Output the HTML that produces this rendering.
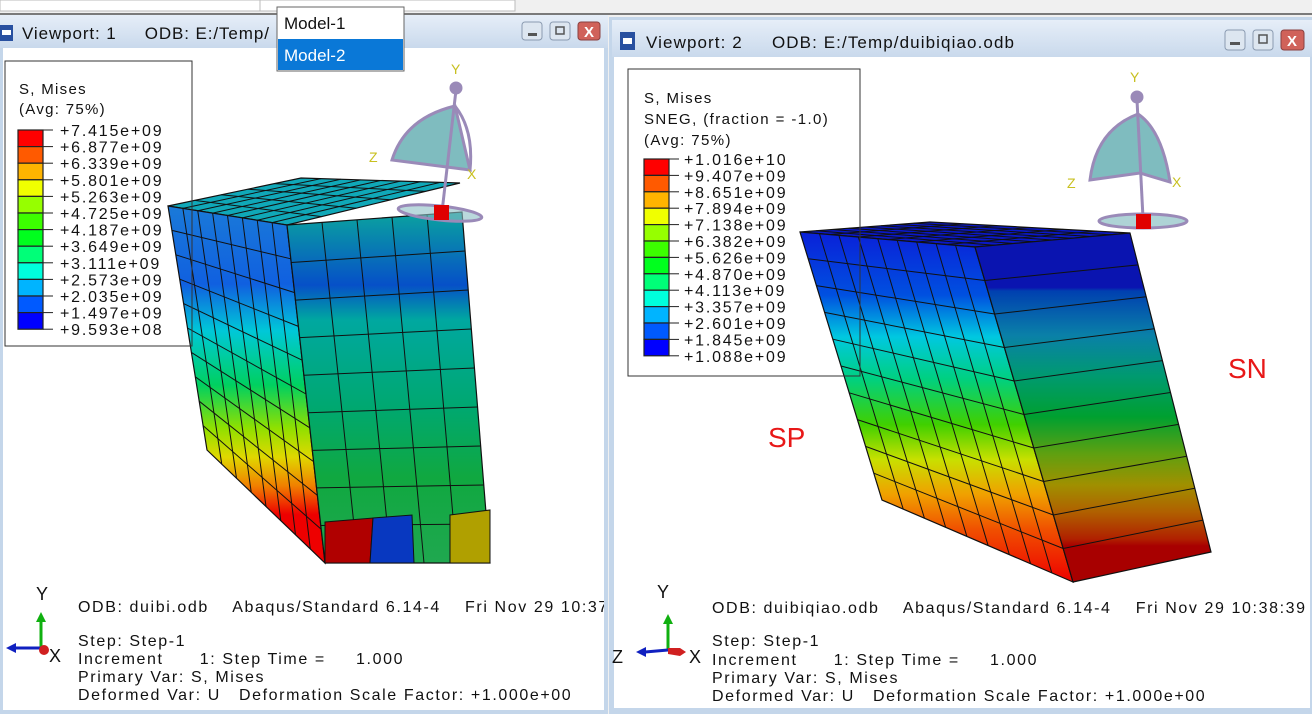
<!DOCTYPE html>
<html><head><meta charset="utf-8"><style>
body{margin:0;width:1312px;height:714px;overflow:hidden;background:#f0f0f0;font-family:"Liberation Sans",sans-serif}
svg{position:absolute;left:0;top:0}
text{white-space:pre}
</style></head><body>
<svg width="1312" height="714" viewBox="0 0 1312 714">
<defs>
<clipPath id="clipL"><rect x="3" y="48" width="601" height="662"/></clipPath>
<linearGradient id="tb" x1="0" y1="0" x2="0" y2="1"><stop offset="0" stop-color="#e6eef8"/><stop offset="1" stop-color="#c9d9ec"/></linearGradient>
<linearGradient id="lside" x1="0" y1="205" x2="0" y2="565" gradientUnits="userSpaceOnUse">
<stop offset="0" stop-color="#1a7ad8"/><stop offset="0.22" stop-color="#1060e0"/><stop offset="0.35" stop-color="#00c8d8"/><stop offset="0.5" stop-color="#00d060"/><stop offset="0.62" stop-color="#90e000"/><stop offset="0.7" stop-color="#e0d800"/><stop offset="0.78" stop-color="#f08000"/><stop offset="0.86" stop-color="#ee0000"/><stop offset="1" stop-color="#ee0000"/></linearGradient>
<linearGradient id="lfront" x1="0" y1="215" x2="0" y2="565" gradientUnits="userSpaceOnUse">
<stop offset="0" stop-color="#0aa0a0"/><stop offset="0.2" stop-color="#0650c8"/><stop offset="0.3" stop-color="#00a8a0"/><stop offset="0.55" stop-color="#00a870"/><stop offset="0.75" stop-color="#10a840"/><stop offset="1" stop-color="#20a850"/></linearGradient>
<linearGradient id="rside" x1="0" y1="232" x2="0" y2="582" gradientUnits="userSpaceOnUse">
<stop offset="0" stop-color="#0a20d8"/><stop offset="0.18" stop-color="#0050e0"/><stop offset="0.3" stop-color="#00c8e0"/><stop offset="0.42" stop-color="#00d080"/><stop offset="0.55" stop-color="#40d000"/><stop offset="0.65" stop-color="#c8e000"/><stop offset="0.75" stop-color="#f0a000"/><stop offset="0.85" stop-color="#f05000"/><stop offset="1" stop-color="#ee0000"/></linearGradient>
<linearGradient id="rfront" x1="0" y1="240" x2="0" y2="580" gradientUnits="userSpaceOnUse">
<stop offset="0" stop-color="#0a14b0"/><stop offset="0.14" stop-color="#0a14b0"/><stop offset="0.15" stop-color="#0040b0"/><stop offset="0.28" stop-color="#0a80a8"/><stop offset="0.4" stop-color="#009a70"/><stop offset="0.52" stop-color="#00a030"/><stop offset="0.63" stop-color="#60a010"/><stop offset="0.72" stop-color="#a09000"/><stop offset="0.8" stop-color="#b06000"/><stop offset="0.88" stop-color="#b02000"/><stop offset="0.9" stop-color="#a80000"/><stop offset="1" stop-color="#a80000"/></linearGradient>
</defs>
<rect x="0" y="0" width="1312" height="14" fill="#f0f0f0"/>
<rect x="0" y="0" width="400" height="11" fill="#fff" stroke="#bbb"/>
<rect x="260" y="0" width="255" height="11" fill="#fff" stroke="#bbb"/>
<rect x="0" y="13" width="1312" height="2" fill="#7a7a7a"/>
<g>
<rect x="0" y="15" width="608" height="699" fill="#c4d6ea"/>
<rect x="0" y="15" width="608" height="33" fill="url(#tb)"/>
<rect x="3" y="48" width="601" height="662" fill="#fff"/>
<rect x="0" y="25" width="13" height="16" fill="#2850a0"/><rect x="2" y="30" width="9" height="5" fill="#fff"/>
<text x="22" y="39" font-size="17" letter-spacing="0.9" fill="#111">Viewport: 1     ODB: E:/Temp/</text>
<rect x="522" y="22" width="20" height="18" rx="3" fill="#dde6f0" stroke="#8a9ab0"/>
<rect x="528" y="33" width="9" height="3" fill="#555"/>
<rect x="550" y="22" width="20" height="18" rx="3" fill="#dde6f0" stroke="#8a9ab0"/>
<rect x="556" y="27" width="8" height="7" fill="none" stroke="#555" stroke-width="1.5"/>
<rect x="578" y="22" width="22" height="18" rx="3" fill="#d0625a" stroke="#8a4040"/>
<text x="589" y="37" font-size="15" fill="#fff" text-anchor="middle" font-weight="bold">X</text>
</g>
<g>
<rect x="609" y="17" width="703" height="697" fill="#c4d6ea"/>
<rect x="612" y="20" width="700" height="37" fill="url(#tb)"/>
<rect x="614" y="57" width="696" height="651" fill="#fff"/>
<rect x="620" y="32" width="15" height="18" fill="#2850a0"/><rect x="623" y="38" width="9" height="6" fill="#fff"/>
<text x="646" y="48" font-size="17" letter-spacing="1.1" fill="#111">Viewport: 2     ODB: E:/Temp/duibiqiao.odb</text>
<rect x="1225" y="30" width="20" height="20" rx="3" fill="#dde6f0" stroke="#8a9ab0"/>
<rect x="1230" y="42" width="10" height="3" fill="#555"/>
<rect x="1253" y="30" width="20" height="20" rx="3" fill="#dde6f0" stroke="#8a9ab0"/>
<rect x="1259" y="35" width="8" height="8" fill="none" stroke="#555" stroke-width="1.5"/>
<rect x="1281" y="30" width="23" height="20" rx="3" fill="#d0625a" stroke="#8a4040"/>
<text x="1292" y="46" font-size="15" fill="#fff" text-anchor="middle" font-weight="bold">X</text>
</g>
<rect x="5" y="61" width="187" height="285" fill="#fff"/>
<rect x="628" y="69" width="232" height="307" fill="#fff"/>
<g id="meshes"></g>
<g>
<rect x="5" y="61" width="187" height="285" fill="none" stroke="#333"/>
<text x="19" y="94" font-size="15" fill="#111" letter-spacing="1.3">S, Mises</text>
<text x="19" y="114" font-size="15" fill="#111" letter-spacing="1.3">(Avg: 75%)</text>
<g id="leg1"></g>
</g>
<g>
<rect x="628" y="69" width="232" height="307" fill="none" stroke="#333"/>
<text x="644" y="103" font-size="15" fill="#111" letter-spacing="1.4">S, Mises</text>
<text x="644" y="124" font-size="15" fill="#111" letter-spacing="1.4">SNEG, (fraction = -1.0)</text>
<text x="644" y="145" font-size="15" fill="#111" letter-spacing="1.4">(Avg: 75%)</text>
<g id="leg2"></g>
</g>
<g>
<rect x="277" y="7" width="127" height="64" fill="#fff" stroke="#666"/>
<text x="284" y="29" font-size="17" fill="#111">Model-1</text>
<rect x="278" y="39" width="125" height="31" fill="#0a78d7"/>
<text x="284" y="61" font-size="17" fill="#fff">Model-2</text>
</g>
<g stroke="#9a8ab8" stroke-width="3">
<path d="M455,106 Q405,118 392,160 L470,170 Z" fill="#7fbcbf"/>
<path d="M455,106 Q474,130 470,170" fill="none"/>
<ellipse cx="440" cy="213" rx="42" ry="7" transform="rotate(6 440 213)" fill="#8cc0c4" fill-opacity="0.6"/>
<line x1="456" y1="90" x2="442" y2="212"/>
<circle cx="456" cy="88" r="5" fill="#9a8ab8"/>
<rect x="434" y="205" width="15" height="15" fill="#e00000" stroke="none"/>
<text x="451" y="74" font-size="14" fill="#c8c020" stroke="none">Y</text>
<text x="369" y="162" font-size="14" fill="#c8c020" stroke="none">Z</text>
<text x="467" y="179" font-size="14" fill="#c8c020" stroke="none">X</text>
</g>
<g stroke="#9a8ab8" stroke-width="3">
<path d="M1138,114 Q1096,130 1090,180 L1140,173 L1170,182 Q1162,130 1138,114 Z" fill="#7fbcbf"/>
<ellipse cx="1143" cy="221" rx="44" ry="7" fill="#8cc0c4" fill-opacity="0.7"/>
<line x1="1137" y1="100" x2="1143" y2="218"/>
<circle cx="1137" cy="97" r="5" fill="#9a8ab8"/>
<rect x="1136" y="214" width="15" height="15" fill="#e00000" stroke="none"/>
<text x="1130" y="82" font-size="14" fill="#c8c020" stroke="none">Y</text>
<text x="1067" y="188" font-size="14" fill="#c8c020" stroke="none">Z</text>
<text x="1172" y="187" font-size="14" fill="#c8c020" stroke="none">X</text>
</g>
<text x="768" y="447" font-size="28" fill="#e81818">SP</text>
<text x="1228" y="378" font-size="28" fill="#e81818">SN</text>
<g>
<line x1="41" y1="648" x2="41" y2="620" stroke="#10b010" stroke-width="3"/><path d="M36,622 L41,612 L46,622 Z" fill="#10b010"/>
<line x1="41" y1="648" x2="16" y2="648" stroke="#1020c0" stroke-width="3"/><path d="M16,643 L6,648 L16,653 Z" fill="#1020c0"/>
<circle cx="44" cy="650" r="5" fill="#d02020"/>
<text x="36" y="600" font-size="18" fill="#111">Y</text>
<text x="49" y="662" font-size="18" fill="#111">X</text>
</g>
<g>
<line x1="668" y1="650" x2="668" y2="622" stroke="#10b010" stroke-width="3"/><path d="M663,624 L668,614 L673,624 Z" fill="#10b010"/>
<line x1="668" y1="650" x2="645" y2="652" stroke="#1020c0" stroke-width="3"/><path d="M646,647 L636,652 L646,657 Z" fill="#1020c0"/>
<path d="M668,648 L680,648 L686,652 L680,656 L668,654 Z" fill="#d02020"/>
<text x="657" y="598" font-size="18" fill="#111">Y</text>
<text x="612" y="663" font-size="18" fill="#111">Z</text>
<text x="689" y="663" font-size="18" fill="#111">X</text>
</g>
<g font-size="16" letter-spacing="1.6" fill="#111" clip-path="url(#clipL)">
<text x="78" y="612">ODB: duibi.odb    Abaqus/Standard 6.14-4    Fri Nov 29 10:37</text>
<text x="78" y="646">Step: Step-1</text>
<text x="78" y="664">Increment      1: Step Time =     1.000</text>
<text x="78" y="682">Primary Var: S, Mises</text>
<text x="78" y="700">Deformed Var: U   Deformation Scale Factor: +1.000e+00</text>
</g>
<rect x="609" y="590" width="5" height="40" fill="#c4d6ea"/>
<g font-size="16" letter-spacing="1.6" fill="#111">
<text x="712" y="613">ODB: duibiqiao.odb    Abaqus/Standard 6.14-4    Fri Nov 29 10:38:39</text>
<text x="712" y="646">Step: Step-1</text>
<text x="712" y="665">Increment      1: Step Time =     1.000</text>
<text x="712" y="683">Primary Var: S, Mises</text>
<text x="712" y="701">Deformed Var: U   Deformation Scale Factor: +1.000e+00</text>
</g>
</svg>
<script>
const NS='http://www.w3.org/2000/svg';
const legend1Labels=['+7.415e+09','+6.877e+09','+6.339e+09','+5.801e+09','+5.263e+09','+4.725e+09','+4.187e+09','+3.649e+09','+3.111e+09','+2.573e+09','+2.035e+09','+1.497e+09','+9.593e+08'];
const legend2Labels=['+1.016e+10','+9.407e+09','+8.651e+09','+7.894e+09','+7.138e+09','+6.382e+09','+5.626e+09','+4.870e+09','+4.113e+09','+3.357e+09','+2.601e+09','+1.845e+09','+1.088e+09'];
const bandColors=['#ff0000','#ff5a00','#ffb400','#f0ff00','#96ff00','#3cff00','#00ff1e','#00ff78','#00ffdc','#00b4ff','#005aff','#0000ff'];
function mk(tag,attrs,parent){const e=document.createElementNS(NS,tag);for(const k in attrs)e.setAttribute(k,attrs[k]);parent.appendChild(e);return e;}
function legend(gid,labels,x,y0,step,lx){
  const g=document.getElementById(gid);
  bandColors.forEach((c,i)=>{const r=mk('rect',{x:x,y:y0+i*step,width:25,height:step,fill:c,stroke:'#222','stroke-width':1.2},g);
    
    });
  labels.forEach((t,i)=>{const yy=y0+i*step;mk('line',{x1:x+25,y1:yy,x2:x+35,y2:yy,stroke:'#222'},g);
    const tx=mk('text',{x:lx,y:yy+6,'font-size':16,fill:'#111','letter-spacing':1.8},g);tx.textContent=t;
    
    });
}
legend('leg1',legend1Labels,18,130,16.6,60);
legend('leg2',legend2Labels,644,159,16.4,684);
const mesh=document.getElementById('meshes');
function lerp(a,b,t){return [a[0]+(b[0]-a[0])*t,a[1]+(b[1]-a[1])*t];}
function quad(p,fill,nu,nv,name){
  const poly=mk('polygon',{points:p.map(q=>q.join(',')).join(' '),fill:fill,stroke:'#111','stroke-width':1.2},mesh);
  
  
  for(let i=1;i<nu;i++){const t=i/nu;const a=lerp(p[0],p[1],t),b=lerp(p[3],p[2],t);mk('line',{x1:a[0],y1:a[1],x2:b[0],y2:b[1],stroke:'#111','stroke-width':1},mesh);}
  for(let j=1;j<nv;j++){const t=j/nv;const a=lerp(p[0],p[3],t),b=lerp(p[1],p[2],t);mk('line',{x1:a[0],y1:a[1],x2:b[0],y2:b[1],stroke:'#111','stroke-width':1},mesh);}
}
quad([[168,206],[301,178],[460,183],[287,225]],'#10a8b8',5,8,'left-top-face');
quad([[168,206],[287,225],[325,563],[207,450]],'url(#lside)',8,10,'left-side-face');
quad([[287,225],[462,212],[490,563],[325,563]],'url(#lfront)',5,9,'left-front-face');
mk('polygon',{points:'325,522 373,518 370,563 325,563',fill:'#b00000',stroke:'#111'},mesh);
mk('polygon',{points:'373,518 412,515 414,563 370,563',fill:'#0838c0',stroke:'#111'},mesh);
mk('polygon',{points:'450,515 490,510 490,563 450,563',fill:'#b0a000',stroke:'#111'},mesh);
quad([[800,232],[930,222],[1130,233],[975,247]],'#0a18c8',8,6,'right-top-face');
quad([[800,232],[975,247],[1073,582],[882,500]],'url(#rside)',9,10,'right-side-face');
quad([[975,247],[1130,233],[1211,552],[1073,582]],'url(#rfront)',1,10,'right-front-face');
</script>
</body></html>
